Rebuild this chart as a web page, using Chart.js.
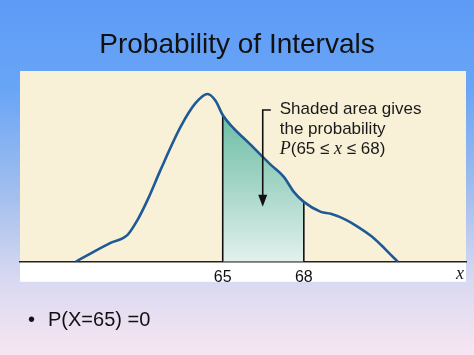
<!DOCTYPE html>
<html><head><meta charset="utf-8">
<script src="https://cdn.jsdelivr.net/npm/chart.js@4.4.1/dist/chart.umd.min.js"></script>
<style>
html,body{margin:0;padding:0;}
body{width:474px;height:355px;overflow:hidden;position:relative;
 background:linear-gradient(to bottom,#5d9bf6 0%,#69a5f6 25%,#a3bfee 55%,#d7d8f1 78%,#f8e6f2 100%);}
#wrap{position:absolute;left:0;top:0;width:474px;height:355px;}
#bullet{position:absolute;left:0;top:309px;width:474px;height:24px;font:20px "Liberation Sans",Arial,sans-serif;line-height:20px;color:#111;white-space:nowrap;}
</style></head><body>
<div id="wrap"><canvas id="c" width="474" height="355"></canvas></div>
<div id="bullet"><span style="position:absolute;left:28px">•</span><span style="position:absolute;left:48px">P(X=65) =0</span></div>
<script>
// ---- data ----
const xValues       = [59.56, 60.22, 60.85, 61.48, 61.85, 62.22, 62.70, 63.44, 64.00, 64.44, 64.74, 65.00, 66.04, 66.78, 67.26, 67.63, 68.00, 68.63, 69.00, 69.56, 70.00, 70.48, 70.85, 71.22, 71.48];
const densityValues = [0.000, 0.010, 0.019, 0.027, 0.042, 0.062, 0.092, 0.135, 0.159, 0.168, 0.161, 0.147, 0.117, 0.097, 0.085, 0.070, 0.060, 0.050, 0.048, 0.042, 0.035, 0.026, 0.017, 0.007, 0.000];
const shadeFrom = 65;
const shadeTo = 68;
const tickValues = [65, 68];
const axisLabel = 'x';
const titleText = 'Probability of Intervals';
const noteLines = ['Shaded area gives', 'the probability'];

// ---- derived tables ----
const curvePts = xValues.map((x, i) => ({x: x, y: densityValues[i]}));
const shadePts = curvePts.filter(p => p.x >= shadeFrom && p.x <= shadeTo);
const yAt = v => densityValues[xValues.indexOf(v)];
const lineFrom = [{x: shadeFrom, y: 0}, {x: shadeFrom, y: yAt(shadeFrom)}];
const lineTo = [{x: shadeTo, y: 0}, {x: shadeTo, y: yAt(shadeTo)}];

const SANS = '"Liberation Sans", Arial, sans-serif';
const SERIF = '"Liberation Serif", "Times New Roman", serif';

const panelPlugin = {
  id: 'panel',
  beforeDraw(chart) {
    const {ctx, chartArea: a} = chart;
    ctx.save();
    ctx.fillStyle = '#f8f1d8';
    ctx.fillRect(a.left, a.top, a.right - a.left, a.bottom - a.top);
    ctx.fillStyle = '#ffffff';
    ctx.fillRect(a.left, a.bottom, a.right - a.left, 20);
    ctx.restore();
  },
  afterDatasetsDraw(chart) {
    const {ctx, chartArea: a} = chart;
    const xs = chart.scales.x, ys = chart.scales.y;
    const ax = xs.getPixelForValue(66.48);
    const top = ys.getPixelForValue(0.152);
    const base = ys.getPixelForValue(0.067);
    const tip = ys.getPixelForValue(0.055);
    ctx.save();
    ctx.strokeStyle = '#111';
    ctx.fillStyle = '#111';
    ctx.lineWidth = 1.6;
    ctx.beginPath();
    ctx.moveTo(xs.getPixelForValue(66.78), top);
    ctx.lineTo(ax, top);
    ctx.lineTo(ax, base + 1);
    ctx.stroke();
    ctx.beginPath();
    ctx.moveTo(ax - 4.5, base);
    ctx.lineTo(ax + 4.5, base);
    ctx.lineTo(ax, tip);
    ctx.closePath();
    ctx.fill();
    // note text
    const tx = xs.getPixelForValue(67.11);
    ctx.fillStyle = '#1a1a1a';
    ctx.textBaseline = 'alphabetic';
    ctx.textAlign = 'left';
    ctx.font = '17px ' + SANS;
    ctx.fillText(noteLines[0], tx, ys.getPixelForValue(0.148));
    ctx.fillText(noteLines[1], tx, ys.getPixelForValue(0.128));
    const by = ys.getPixelForValue(0.108);
    const parts = [
      ['P', 'italic 18px ' + SERIF],
      ['(' + shadeFrom + ' \u2264 ', '17px ' + SANS],
      ['x', 'italic 18px ' + SERIF],
      [' \u2264 ' + shadeTo + ')', '17px ' + SANS]
    ];
    let cx = tx;
    parts.forEach(([t, f]) => { ctx.font = f; ctx.fillText(t, cx, by); cx += ctx.measureText(t).width; });
    // axis variable label
    ctx.font = 'italic 18px ' + SERIF;
    ctx.textAlign = 'right';
    ctx.fillText(axisLabel, a.right - 2, a.bottom + 17);
    ctx.restore();
  }
};

new Chart(document.getElementById('c'), {
  type: 'scatter',
  data: {
    datasets: [
      {
        data: curvePts, showLine: true, borderColor: '#1e5a96', borderWidth: 2.6,
        cubicInterpolationMode: 'monotone', pointRadius: 0, fill: false
      },
      { data: lineFrom, showLine: true, borderColor: '#111', borderWidth: 1.6, pointRadius: 0, fill: false },
      { data: lineTo, showLine: true, borderColor: '#111', borderWidth: 1.6, pointRadius: 0, fill: false },
      {
        data: shadePts, showLine: true, borderWidth: 0, borderColor: 'rgba(0,0,0,0)',
        cubicInterpolationMode: 'monotone', pointRadius: 0, fill: 'origin',
        backgroundColor: (c) => {
          const ch = c.chart, a = ch.chartArea;
          if (!a) return '#a8d8c8';
          const g = ch.ctx.createLinearGradient(0, ch.scales.y.getPixelForValue(yAt(shadeFrom)), 0, a.bottom);
          g.addColorStop(0, '#6dbea6');
          g.addColorStop(0.5, '#a6d6c7');
          g.addColorStop(1, '#e2f1ee');
          return g;
        }
      }
    ]
  },
  options: {
    responsive: false,
    animation: false,
    devicePixelRatio: 1,
    layout: { padding: { left: 8, right: 8, top: 0, bottom: 62 } },
    plugins: {
      legend: { display: false },
      tooltip: { enabled: false },
      title: {
        display: true, text: titleText, color: '#111',
        font: { family: SANS, size: 28, weight: 'normal' },
        padding: { top: 28, bottom: 9.4 }
      }
    },
    scales: {
      x: {
        type: 'linear', min: 57.5, max: 74,
        afterBuildTicks: (s) => { s.ticks = tickValues.map(v => ({value: v})); },
        ticks: { color: '#111', font: { family: SANS, size: 16 }, padding: 6, maxRotation: 0, callback: v => String(v) },
        grid: { display: false, drawTicks: false },
        border: { display: true, color: '#222', width: 1.6 }
      },
      y: {
        min: 0, max: 0.191,
        afterFit: (s) => { s.width = 12; },
        ticks: { display: false },
        grid: { display: false, drawTicks: false },
        border: { display: false }
      }
    }
  },
  plugins: [panelPlugin]
});
</script>
</body></html>
